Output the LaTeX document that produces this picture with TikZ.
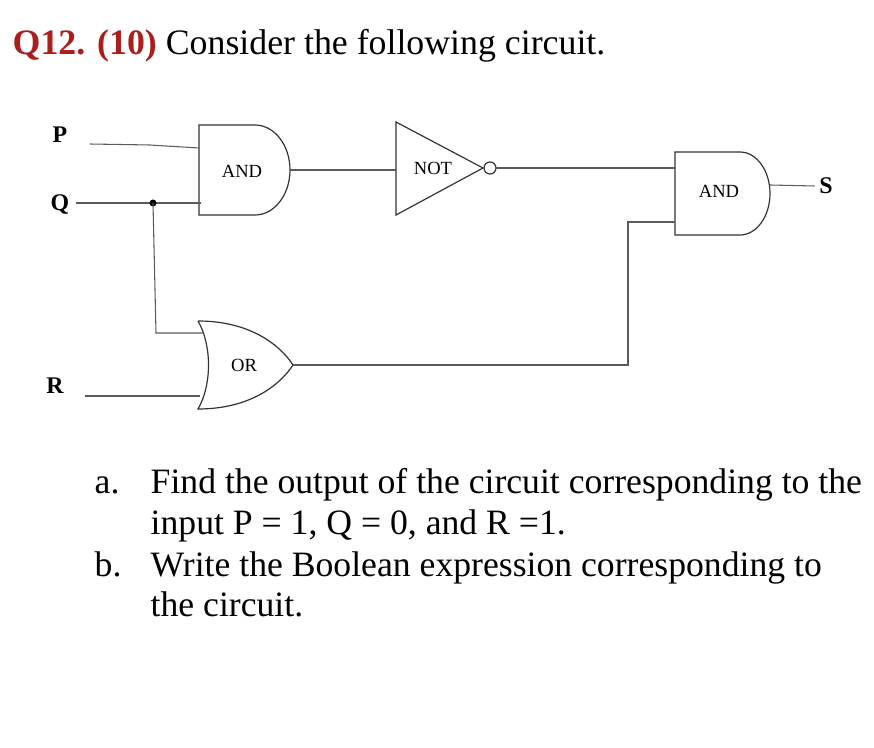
\documentclass[tikz,border=0pt]{standalone}
\usepackage{fontspec}
\setmainfont{Liberation Serif}
\definecolor{qred}{RGB}{170,30,30}
\definecolor{wire}{RGB}{90,90,90}
\begin{document}
\begin{tikzpicture}[x=0.0265cm,y=-0.0265cm,
  gate/.style={draw=black!80,line width=0.9pt},
  wire/.style={draw=wire,line width=0.8pt},
  glabel/.style={font=\fontsize{14}{14}\selectfont},
  inlabel/.style={font=\fontsize{18}{18}\selectfont\bfseries}]
\useasboundingbox (0,0) rectangle (874,748);
% title
\node[anchor=base west,font=\fontsize{27}{27}\selectfont] at (8,55)
  {\textcolor{qred}{\textbf{Q12. (10)}} Consider the following circuit.};
% gates
\draw[gate] (255,125) -- (199,125) -- (199,215) -- (255,215) arc (90:-90:35 and 45) -- cycle;
\node[glabel] (and1) at (242,171) {AND};
\draw[gate] (396,122) -- (483,168) -- (396,215) -- cycle;
\draw[gate] (490,168) circle (6);
\node[glabel] (not) at (433,168) {NOT};
\draw[gate] (740,152) -- (675,152) -- (675,235) -- (740,235) arc (90:-90:30 and 41.5) -- cycle;
\node[glabel] (and2) at (719,191) {AND};
\draw[gate] (198,321) .. controls (212,345) and (212,385) .. (198,409)
  .. controls (250,409) and (280,385) .. (293,365)
  .. controls (280,345) and (250,321) .. (198,321);
\node[glabel] (or) at (244,365) {OR};
% inputs
\node[inlabel] (p) at (60,135) {P};
\node[inlabel] (q) at (60,205) {Q};
\node[inlabel] (r) at (55,386) {R};
\node[inlabel] (s) at (826,186) {S};
\coordinate (qdot) at (153,203);
% wires
\draw[wire] (90,144) -- (150,145) -- (199,148);
\draw[wire] (q.east) ++(2,-2) -- (qdot) -- (201,203);
\fill[black] (qdot) circle (3.5);
\draw[wire] (qdot) -- (156,333) -- (204,333);
\draw[wire] (85,396) -- (200,396);
\draw[wire] (290,170) -- (396,170);
\draw[wire] (496,168) -- (675,168);
\draw[wire] (293,365) -- (628,365) -- (628,222) -- (675,222);
\draw[wire] (770,185) -- (s.west);
% questions
\begin{scope}[every node/.style={anchor=base west,font=\fontsize{26.9}{26.9}\selectfont}]
\node at (90,494) {a.};
\node at (146,494) {Find the output of the circuit corresponding to the};
\node at (146,534) {input P = 1, Q = 0, and R =1.};
\node at (90,576) {b.};
\node at (146,576) {Write the Boolean expression corresponding to};
\node at (146,616) {the circuit.};
\end{scope}
\end{tikzpicture}
\end{document}
